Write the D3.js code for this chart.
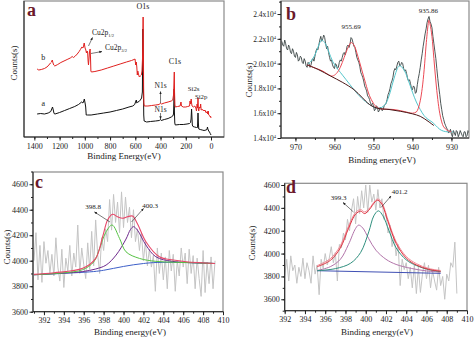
<!DOCTYPE html>
<html><head><meta charset="utf-8">
<script src="https://cdn.jsdelivr.net/npm/d3@7"></script>
<style>
body{margin:0;background:#fff}
svg{display:block}
text{font-family:"Liberation Serif","DejaVu Serif",serif;fill:#222}
</style>
</head><body>
<svg id="chart" width="474" height="337"></svg>
<script>
// ---------------- DATA ----------------
// Panel a: survey spectra [binding energy eV, counts (a.u.)]
const aXTicks = [1400,1200,1000,800,600,400,200,0];
const aCurveA = [[1378,23],[1350,23.5],[1320,23],[1290,24],[1270,25.5],[1262,28],[1256,30],[1250,27],[1244,23.5],[1236,23],[1200,24.5],[1160,26.5],[1120,28.5],[1080,30.5],[1050,32.5],[1025,35],[1015,34],[1008,36],[1004,38],[998,34],[993,30],[989,22],[980,22],[950,22],[900,23],[850,24],[800,25],[750,26.5],[700,28],[650,30],[620,31],[605,32.5],[598,35],[592,37],[588,34],[580,35],[570,35.5],[560,37],[550,39],[544,45],[540,108],[536,60],[533,22],[530,16],[510,15],[480,15.5],[440,16],[410,16.5],[400,17.5],[395,16.5],[370,17.5],[340,18.5],[315,20],[303,21],[297,23],[294,34],[292,48],[290,25],[287,14],[283,12],[250,12.5],[220,12.5],[190,13],[170,13.5],[162,14.5],[158,18],[154,28],[151,20],[148,12],[143,10.5],[130,10],[115,9.5],[107,9.5],[103,24],[100,14],[97,8],[85,7.5],[70,7],[55,6.5],[40,7],[32,7.5],[28,10],[25,8],[18,6],[12,5],[6,3.5],[0,2]];
const aCurveB = [[1378,68],[1365,67],[1345,67.5],[1320,68.5],[1300,70],[1285,72],[1272,74],[1264,75],[1258,77],[1252,74],[1246,72],[1238,71],[1215,72.5],[1190,74.5],[1165,76],[1140,77.5],[1115,79],[1100,80.5],[1090,79.5],[1075,81],[1060,83],[1045,85.5],[1035,87.5],[1023,90],[1015,89],[1010,91],[1005,94],[998,89],[992,87],[987,84],[982,86],[978,85],[974,76],[971,72],[967,78],[963,85],[958,88],[955,80],[952,66],[948,65],[920,65.5],[870,67],[820,69],[770,71],[720,73],[670,75],[630,76.5],[610,77.5],[602,78],[597,72],[592,75],[588,70],[584,62],[580,66],[575,63],[568,60],[560,61],[552,62],[547,66],[543,78],[540,100],[538,120],[536,95],[534,50],[532,34],[529,31],[500,31],[470,31.5],[440,32],[410,32.5],[400,34],[392,33],[370,34],[340,35],[315,36],[303,37],[297,42],[294,52],[291,65],[289,45],[286,32],[283,30],[265,30.5],[245,31],[238,35],[234,31],[220,30],[200,30],[185,30.5],[170,31],[166,36],[162,33],[157,38],[154,34],[150,31],[140,30],[128,31],[120,29],[115,26],[110,33],[107,29],[103,39],[100,28],[97,26],[92,30],[86,29],[82,33],[78,27],[72,27.5],[62,27],[55,26],[48,27],[42,25],[36,24],[30,25.5],[26,23],[22,26],[18,22],[12,21.5],[8,20.5],[4,21],[0,19]];

// Panel b: Cu 2p (counts in units of 1e4), raw sampled from 973.5 eV down in 0.25 eV steps
const bXTicks = [970,960,950,940,930];
const bYTicks = [1.4,1.6,1.8,2.0,2.2,2.4];
const bRawStart = 973.5, bRawStep = -0.25;
const bRaw = [2.18,2.15,2.14,2.19,2.16,2.12,2.11,2.15,2.13,2.09,2.08,2.12,2.10,2.06,2.05,2.09,2.07,2.02,2.03,2.06,
  2.05,2.01,2.00,2.04,2.02,1.98,1.97,2.01,2.00,1.97,1.99,2.03,2.04,2.02,2.06,2.10,2.12,2.11,2.15,2.19,
  2.22,2.18,2.20,2.23,2.21,2.16,2.12,2.14,2.09,2.05,2.02,2.03,1.99,1.97,1.96,2.00,1.99,1.96,1.97,2.01,
  2.03,2.02,2.05,2.08,2.09,2.07,2.10,2.14,2.15,2.13,2.16,2.21,2.20,2.17,2.14,2.13,2.09,2.05,2.03,2.01,
  1.98,1.93,1.91,1.89,1.86,1.82,1.80,1.78,1.74,1.73,1.71,1.68,1.67,1.68,1.66,1.62,1.63,1.66,1.65,1.61,
  1.62,1.65,1.64,1.62,1.63,1.66,1.67,1.68,1.71,1.75,1.77,1.80,1.84,1.86,1.89,1.94,1.96,1.95,1.98,2.01,
  2.02,1.98,1.99,2.01,2.00,1.96,1.94,1.95,1.92,1.88,1.86,1.87,1.84,1.80,1.79,1.82,1.81,1.76,1.77,1.83,
  1.88,1.92,1.97,2.03,2.08,2.14,2.19,2.24,2.28,2.33,2.36,2.38,2.34,2.32,2.29,2.22,2.16,2.10,2.04,1.96,
  1.88,1.81,1.75,1.68,1.63,1.58,1.55,1.52,1.50,1.48,1.47,1.44,1.45,1.47,1.43,1.41,1.46,1.44,1.42,1.46,
  1.45,1.41,1.43,1.46,1.44,1.42,1.41,1.45,1.45,1.41,1.42,1.46,1.44];
const bBackground = [[967,1.99],[964,1.95],[961,1.90],[958,1.85],[955,1.79],[953,1.73],[951,1.67],[949,1.64],[946,1.63],[943,1.615],[940,1.595],[938,1.575],[936,1.535],[934.5,1.50]];
const bMainFit = [[967,1.99],[965,1.965],[963,1.94],[961.5,1.91],[960.5,1.90],[959.5,1.92],[958.5,1.97],[957.5,2.05],[956.5,2.13],[955.7,2.17],[955,2.15],[954,2.06],[953,1.95],[952,1.84],[951,1.74],[950,1.68],[949,1.645],[948,1.635],[945,1.63],[943,1.62],[941,1.605],[940,1.60],[939,1.61],[938.5,1.64],[938,1.70],[937.5,1.80],[937,1.95],[936.5,2.15],[936,2.31],[935.8,2.35],[935.5,2.32],[935,2.22],[934.5,2.04],[934,1.86],[933.5,1.71],[933,1.60],[932.5,1.53],[932,1.49],[931,1.46],[930,1.45]];
const bSatFit = [[967,1.99],[966,2.02],[965,2.07],[964,2.15],[963.3,2.19],[962.5,2.17],[961.5,2.10],[960.5,2.02],[959.5,1.97],[958.5,1.93],[957,1.87],[955,1.79],[953,1.72],[951,1.67],[950,1.65],[949,1.64],[948,1.645],[947,1.67],[946,1.74],[945,1.85],[944,1.95],[943.5,1.98],[943,1.98],[942,1.94],[941,1.86],[940,1.77],[939,1.69],[938,1.63],[937,1.58],[936,1.55],[935,1.53],[934,1.50],[933,1.47],[932,1.455],[931,1.45],[929.5,1.45]];

// Panel c: N 1s, raw sampled from 391.0 eV in 0.2 eV steps
const cXTicks = [392,394,396,398,400,402,404,406,408,410];
const cYTicks = [3600,3800,4000,4200,4400,4600];
const cRawStart = 391.0, cRawStep = 0.2;
const cRaw = [4000,4220,3850,4120,3830,4150,3980,4080,3900,4050,
  3880,4180,3950,3840,4090,3790,4020,3920,4120,3880,
  4060,3950,4280,3900,4100,3970,3860,4140,3930,4230,
  3960,4320,4050,3900,4180,4080,4250,4150,4480,4240,
  4520,4300,4460,4220,4540,4260,4500,4300,4420,4180,
  4400,4150,4250,4080,4220,4000,4150,3960,4090,3950,
  4040,3760,4100,3900,4060,3850,4030,3780,4080,3920,
  4050,3760,4000,3880,4100,3950,4060,3820,4090,3900,
  4040,3780,4020,3860,3720,4080,3750,3990,3820,4030,
  3780,4000];
const cBackground = [[391,3890],[393,3897],[395,3905],[397,3915],[398,3925],[399,3940],[400,3955],[401,3968],[402,3978],[403,3985],[405,3988],[407,3984],[409.2,3978]];
const cPeak1 = [[391,3890],[394,3905],[395.9,3930],[397,3990],[397.6,4097],[398.2,4220],[398.85,4280],[399.6,4175],[400.25,4070],[401.6,4018],[403.25,3995],[405,3988],[407,3984],[409.2,3978]];
const cPeak2 = [[391,3890],[394,3903],[395.9,3915],[397.2,3935],[398.25,3966],[399.25,4044],[400.25,4170],[400.7,4245],[401.0,4267],[401.4,4240],[402.25,4123],[403.25,4031],[404.9,3995],[407,3984],[409.2,3978]];
const cEnvelope = [[391,3893],[393,3905],[395.9,3940],[397.2,4018],[397.9,4188],[398.4,4319],[398.9,4364],[399.4,4345],[399.9,4333],[400.4,4345],[400.9,4350],[401.4,4290],[402.25,4149],[403.6,4031],[405,4005],[406.3,3992],[409.2,3978]];

// Panel d: N 1s, raw sampled from 392.0 eV in 0.2 eV steps
const dXTicks = [392,394,396,398,400,402,404,406,408,410];
const dYTicks = [3600,3800,4000,4200,4400,4600];
const dRawStart = 392.0, dRawStep = 0.2;
const dRaw = [3800,3950,3760,3980,3850,3900,3740,3880,3800,3960,
  3780,3920,3850,3740,3980,3820,3900,3640,3950,3870,
  4000,3900,3960,4060,3920,4010,3760,4080,4050,4180,
  4120,4300,4200,4380,4480,4260,4500,4350,4550,4400,
  4600,4360,4600,4450,4520,4380,4560,4400,4480,4300,
  4350,4180,4250,4060,4150,3980,4080,3720,3950,3860,
  3920,3780,3880,3700,3900,3650,3880,3660,3820,3920,
  3780,3900,3700,3850,3760,3680,3880,3720,3800,3600,
  3820,3760,3920,3880,4100,3650];
const dBackground = [[395.2,3850],[407.4,3827]];
const dPeak1 = [[395.2,3852],[396.5,3885],[397.5,3950],[398.3,4080],[399,4220],[399.3,4249],[399.7,4225],[400.3,4130],[401,4030],[402,3950],[403,3905],[404.5,3870],[406,3848],[407.4,3838]];
const dPeak2 = [[395.2,3850],[397,3868],[398.5,3915],[399.5,4010],[400.3,4190],[400.8,4330],[401.25,4374],[401.7,4330],[402.3,4200],[403,4050],[404,3945],[405,3895],[406.2,3860],[407.4,3842]];
const dEnvelope = [[395.2,3885],[396.5,3940],[397.5,4050],[398.3,4220],[399,4345],[399.5,4371],[399.9,4350],[400.4,4390],[400.9,4450],[401.2,4467],[401.6,4430],[402.2,4280],[403,4090],[404,3960],[405,3900],[406.2,3862],[407.4,3845]];
const dEnvelope2 = [[395.2,3895],[396.5,3955],[397.5,4070],[398.3,4240],[399,4360],[399.5,4385],[399.9,4365],[400.4,4400],[400.9,4460],[401.2,4478],[401.6,4445],[402.2,4295],[403,4105],[404,3975],[405,3912],[406.2,3870],[407.4,3852]];

// ---------------- DRAWING ----------------
const svg = d3.select('#chart');
const defs = svg.append('defs');
defs.append('marker').attr('id','arr').attr('viewBox','0 0 10 10').attr('refX',9).attr('refY',5)
  .attr('markerWidth',5).attr('markerHeight',5).attr('orient','auto')
  .append('path').attr('d','M0,1L10,5L0,9Z').attr('fill','#222');

const labelColor = '#6b1a2c';

function panel(box, xDom, yDom){
  const x = d3.scaleLinear().domain(xDom).range([box.l, box.r]);
  const y = d3.scaleLinear().domain(yDom).range([box.b, box.t]);
  const g = svg.append('g');
  const clipId = 'clip'+Math.round(box.l)+'_'+Math.round(box.t);
  defs.append('clipPath').attr('id',clipId).append('rect')
    .attr('x',box.l).attr('y',box.t).attr('width',box.r-box.l).attr('height',box.b-box.t);
  const plot = g.append('g').attr('clip-path',`url(#${clipId})`);
  return {x,y,g,plot,box};
}
function frame(p){
  const b=p.box;
  p.g.append('rect').attr('x',b.l).attr('y',b.t).attr('width',b.r-b.l).attr('height',b.b-b.t)
    .attr('fill','none').attr('stroke','#8a8a8a').attr('stroke-width',1.2);
  p.g.append('line').attr('x1',b.l).attr('x2',b.l).attr('y1',b.t).attr('y2',b.b).attr('stroke','#222');
  p.g.append('line').attr('x1',b.l).attr('x2',b.r).attr('y1',b.b).attr('y2',b.b).attr('stroke','#222');
}
function styleAxis(sel){
  sel.select('.domain').remove();
  sel.selectAll('line').attr('stroke','#222');
  sel.selectAll('text').attr('font-family','"Liberation Serif",serif').attr('font-size',8).attr('fill','#222');
}
function xAxis(p, majors, minors, fmt){
  const gm = p.g.append('g').attr('transform',`translate(0,${p.box.b})`)
    .call(d3.axisBottom(p.x).tickValues(minors).tickSize(2).tickFormat(''));
  styleAxis(gm);
  const g = p.g.append('g').attr('transform',`translate(0,${p.box.b})`)
    .call(d3.axisBottom(p.x).tickValues(majors).tickSize(3.5).tickPadding(2.5).tickFormat(fmt||d3.format('d')));
  styleAxis(g);
}
function yAxis(p, majors, minors, fmt){
  const gm = p.g.append('g').attr('transform',`translate(${p.box.l},0)`)
    .call(d3.axisLeft(p.y).tickValues(minors).tickSize(2).tickFormat(''));
  styleAxis(gm);
  const g = p.g.append('g').attr('transform',`translate(${p.box.l},0)`)
    .call(d3.axisLeft(p.y).tickValues(majors).tickSize(3.5).tickPadding(1.5).tickFormat(fmt||d3.format('d')));
  styleAxis(g);
  return g;
}
function title(x,y,txt,rot){
  const t = svg.append('text').attr('font-size',9).attr('text-anchor','middle').text(txt);
  if(rot) t.attr('transform',`translate(${x},${y}) rotate(-90)`); else t.attr('x',x).attr('y',y);
}
function plabel(x,y,t){
  svg.append('text').attr('x',x).attr('y',y).attr('font-size',18).attr('font-weight','bold')
    .attr('font-family','"Liberation Serif",serif').attr('fill',labelColor).style('fill',labelColor).text(t);
}
function drawLine(p, data, color, w, curve){
  const line = d3.line().x(d=>p.x(d[0])).y(d=>p.y(d[1])).curve(curve||d3.curveLinear);
  p.plot.append('path').datum(data).attr('d',line).attr('fill','none').attr('stroke',color)
    .attr('stroke-width',w).attr('stroke-linejoin','round');
}
function rawPairs(start, step, vals){ return vals.map((v,i)=>[start+i*step, v]); }
function annot(p, txt, tx, ty, x1, y1, x2, y2, fs){
  p.g.append('text').attr('x',tx).attr('y',ty).attr('font-size',fs||7).attr('text-anchor','middle').text(txt);
  if(x1!==undefined) p.g.append('line').attr('x1',x1).attr('y1',y1).attr('x2',x2).attr('y2',y2)
    .attr('stroke','#222').attr('stroke-width',0.6).attr('marker-end','url(#arr)');
}

// ---- Panel a ----
const pa = panel({l:24,r:224,t:1,b:137}, [1482,-103], [0,136]);
drawLine(pa, aCurveA, '#111', 1);
drawLine(pa, aCurveB, '#e0201e', 1);
frame(pa);
xAxis(pa, aXTicks, d3.range(0,1401,100));
title(124,159,'Binding Energy(eV)');
title(17,63,'Counts(s)',true);
plabel(27,16,'a');
{
  const X=pa.x;
  annot(pa,'O1s',X(540),9,undefined,undefined,undefined,undefined,8);
  annot(pa,'C1s',X(286),64,undefined,undefined,undefined,undefined,8);
  annot(pa,'Si2s',X(138),90.5,undefined,undefined,undefined,undefined,6.8);
  annot(pa,'Si2p',X(78),98.5,undefined,undefined,undefined,undefined,6.8);
  annot(pa,'b',X(1330),60,undefined,undefined,undefined,undefined,8);
  annot(pa,'a',X(1330),106,undefined,undefined,undefined,undefined,8);
  annot(pa,'N1s',X(400),88,X(400),103,X(400),91.5,7.5);
  annot(pa,'N1s',X(400),112,X(400),113,X(400),119,7.5);
  const t1 = pa.g.append('text').attr('x',92).attr('y',35).attr('font-size',7.5);
  t1.append('tspan').text('Cu2p');
  t1.append('tspan').attr('font-size',4.5).attr('dy',1.5).text('1/2');
  pa.g.append('line').attr('x1',88.5).attr('y1',46).attr('x2',92.5).attr('y2',37.5)
    .attr('stroke','#222').attr('stroke-width',0.6).attr('marker-end','url(#arr)');
  const t2 = pa.g.append('text').attr('x',105).attr('y',50).attr('font-size',7.5);
  t2.append('tspan').text('Cu2p');
  t2.append('tspan').attr('font-size',4.5).attr('dy',1.5).text('3/2');
  pa.g.append('line').attr('x1',91).attr('y1',53.5).attr('x2',102).attr('y2',51.5)
    .attr('stroke','#222').attr('stroke-width',0.6).attr('marker-end','url(#arr)');
}

// ---- Panel b ----
const pb = panel({l:281,r:469,t:1,b:138}, [973.7,925.5], [1.4,2.505]);
drawLine(pb, rawPairs(bRawStart,bRawStep,bRaw), '#3a4444', 0.9);
drawLine(pb, bSatFit, '#55c6cc', 1, d3.curveCatmullRom);
drawLine(pb, bMainFit, '#ec4a55', 1, d3.curveCatmullRom);
drawLine(pb, bBackground, '#4a1616', 1, d3.curveCatmullRom);
frame(pb);
xAxis(pb, bXTicks, d3.range(930,971,5));
{
  const g = yAxis(pb, bYTicks, d3.range(1.4,2.51,0.1), d=>'');
  g.selectAll('.tick').each(function(d){
    const t = d3.select(this).select('text').attr('font-size',7.5);
    t.text(null);
    t.append('tspan').text(d3.format('.1f')(d)+'x10');
    t.append('tspan').attr('font-size',4.5).attr('dy',-3).text('4');
  });
}
title(382,163,'Binding enery(eV)');
title(252,80,'Counts(s)',true);
plabel(286,20,'b');
annot(pb,'955.69',pb.x(955.7),29);
annot(pb,'935.86',pb.x(935.9),13);

// ---- Panel c ----
const pc = panel({l:33,r:223,t:172,b:311.7}, [390.9,410], [3600,4696]);
drawLine(pc, rawPairs(cRawStart,cRawStep,cRaw), '#c4c4c4', 1);
drawLine(pc, cBackground, '#3d5fc8', 1, d3.curveCatmullRom);
drawLine(pc, cPeak2, '#6e2a8c', 1, d3.curveCatmullRom);
drawLine(pc, cPeak1, '#56c244', 1, d3.curveCatmullRom);
drawLine(pc, cEnvelope, '#e8486a', 1.1, d3.curveCatmullRom);
frame(pc);
xAxis(pc, cXTicks, d3.range(391,410.1,1));
yAxis(pc, cYTicks, d3.range(3600,4701,100));
title(130,334.5,'Binding energy(eV)');
title(10,247,'Counts(s)',true);
plabel(35,188,'c');
annot(pc,'398.8',93,209,110,222,94.5,212);
annot(pc,'400.3',150,208,131.5,222,143.5,208.5);

// ---- Panel d ----
const pd = panel({l:284.7,r:467,t:183.3,b:310.7}, [392,410], [3500,4615]);
drawLine(pd, rawPairs(dRawStart,dRawStep,dRaw), '#c4c4c4', 1);
drawLine(pd, dBackground, '#4050b4', 1);
drawLine(pd, dPeak1, '#b274aa', 1, d3.curveCatmullRom);
drawLine(pd, dPeak2, '#2f8f7e', 1, d3.curveCatmullRom);
drawLine(pd, dEnvelope2, '#f28a96', 1, d3.curveCatmullRom);
drawLine(pd, dEnvelope, '#e0303e', 1, d3.curveCatmullRom);
frame(pd);
xAxis(pd, dXTicks, d3.range(392,410.1,1));
yAxis(pd, dYTicks, d3.range(3500,4601,100));
title(377,335,'Binding energy(eV)');
title(255,243,'Counts(s)',true);
plabel(286,193,'d');
annot(pd,'399.3',338.5,200,353.5,212,343,202.5);
annot(pd,'401.2',399.5,193.5,381,207.5,391,196);
</script>
</body></html>
